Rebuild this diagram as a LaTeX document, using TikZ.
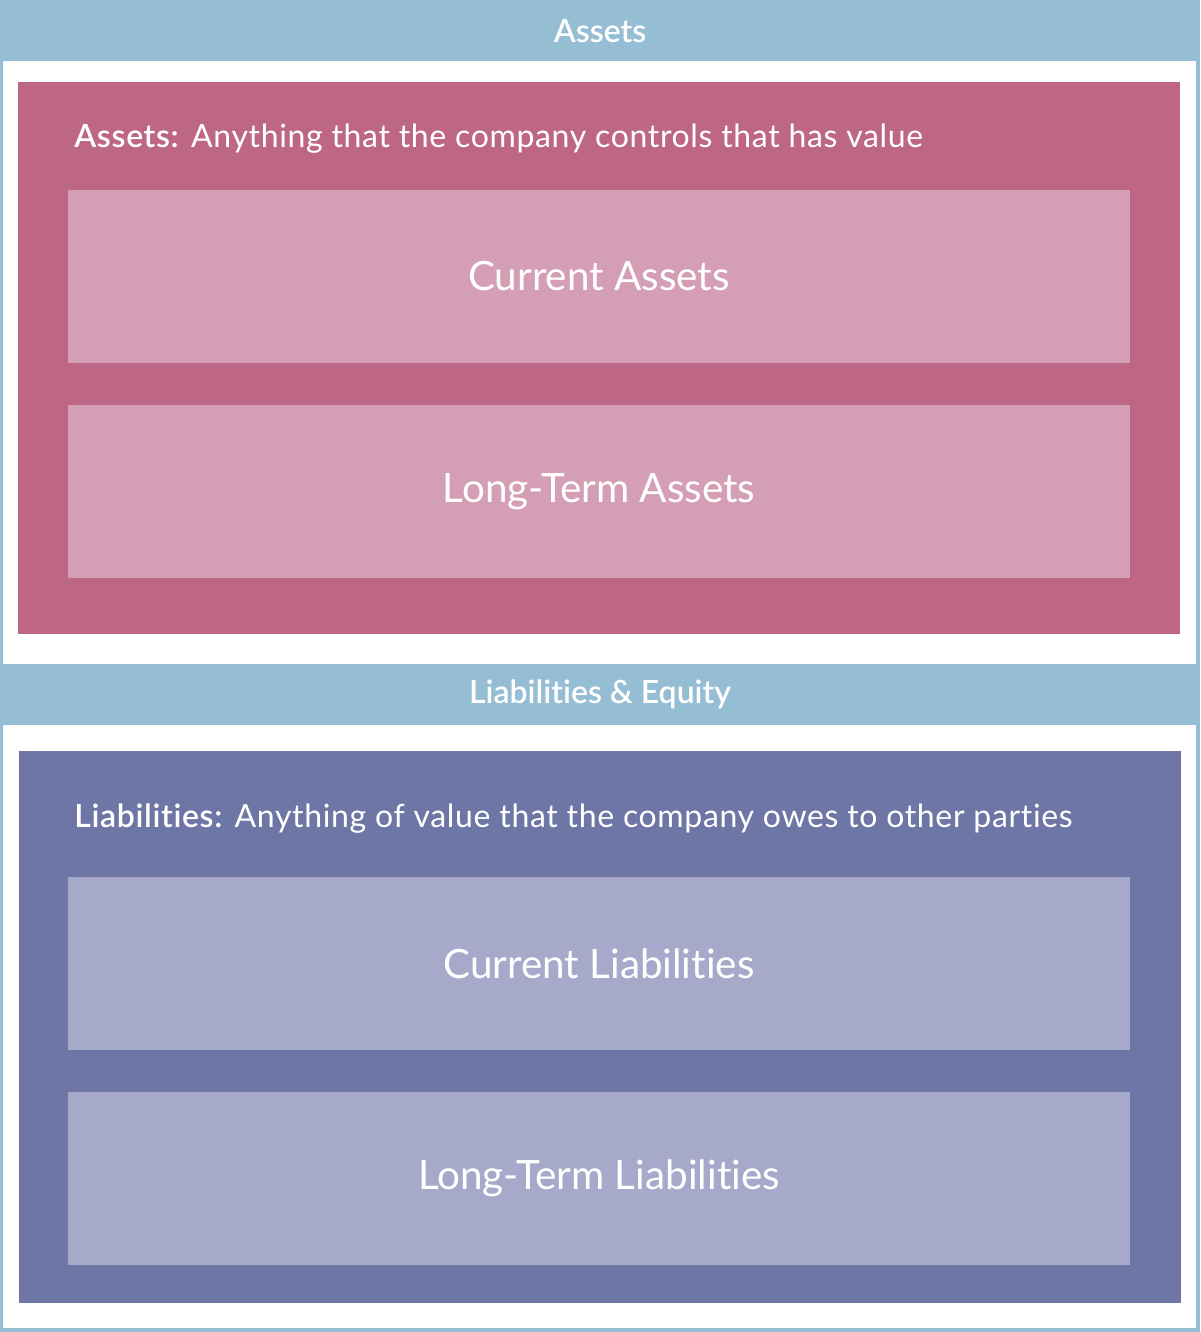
\documentclass[tikz,border=0pt]{standalone}
\usepackage{fontspec}
\setmainfont{Lato}[BoldFont={Lato Semibold}, Ligatures={NoCommon}]
\definecolor{headblue}{HTML}{95BDD4}
\definecolor{pinkdark}{HTML}{BE6685}
\definecolor{pinklight}{HTML}{D49FB5}
\definecolor{bluedark}{HTML}{6E76A6}
\definecolor{bluelight}{HTML}{A6A9CA}
\newfontfamily\descfont{Lato}[BoldFont={Lato Semibold}, Ligatures={NoCommon}, LetterSpace=2]
\begin{document}
\begin{tikzpicture}[x=0.5pt, y=-0.5pt,
    outerbox/.style={minimum width=581pt, minimum height=276pt, inner sep=0pt},
    subbox/.style={minimum width=531pt, minimum height=86.5pt, inner sep=0pt,
      text=white, font=\fontsize{20.2}{24}\selectfont},
    headtext/.style={text=white, font=\fontsize{16}{19}\selectfont\bfseries},
    desctext/.style={text=white, anchor=west, inner sep=0pt,
      font=\descfont\fontsize{16}{19}\selectfont}]
    \useasboundingbox (0,0) rectangle (1200,1332);
    % frame
    \fill[headblue] (0,0) rectangle (1200,1332);
    \fill[white] (3,61) rectangle (1196,664);
    \fill[white] (3,725) rectangle (1196,1328);
    \node (assetshead) [headtext] at (600,31) {Assets};
    \node (liabhead) [headtext] at (600,694) {Liabilities \& Equity};
    % assets
    \node (assetsbox) [outerbox, fill=pinkdark] at (599,358) {};
    \node (assetsdesc) [desctext] at (74,139) {\textbf{Assets:} Anything that the company controls that has value};
    \node (curassets) [subbox, fill=pinklight] at (599,276.5) {Current Assets};
    \node (ltassets) [subbox, fill=pinklight] at (599,491.5) {Long-Term Assets};
    % liabilities
    \node (liabbox) [outerbox, fill=bluedark] at (599.5,1027) {};
    \node (liabdesc) [desctext] at (74,819) {\textbf{Liabilities:} Anything of value that the company owes to other parties};
    \node (curliab) [subbox, fill=bluelight] at (599,963.5) {Current Liabilities};
    \node (ltliab) [subbox, fill=bluelight] at (599,1178.5) {Long-Term Liabilities};
\end{tikzpicture}
\end{document}
